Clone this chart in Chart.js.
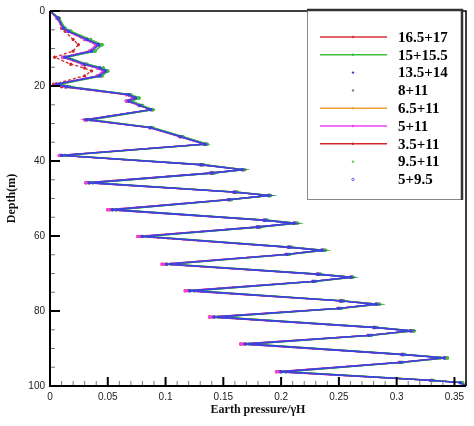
<!DOCTYPE html>
<html>
<head>
<meta charset="utf-8">
<script src="https://cdn.jsdelivr.net/npm/chart.js@4.4.0/dist/chart.umd.min.js"></script>
<style>
  html, body { margin: 0; padding: 0; background: #fff; }
  #wrap { width: 474px; height: 426px; }
</style>
</head>
<body>
<div id="wrap"><canvas id="chart" width="474" height="426"></canvas></div>
<script>
// depth (m), shared by every case
const depth = [
  0, 1.9, 4.6, 5.4, 7.6, 9.0, 10.7, 12.3, 14.2, 15.2, 16.0, 17.3, 19.5, 20.2,
  22.3, 23.2, 24.0, 25.2, 26.3, 29.0, 31.1, 33.5, 35.5, 38.5, 41.0, 42.3, 43.2,
  45.8, 48.3, 49.2, 50.3, 53.0, 55.8, 56.6, 57.6, 60.1, 63.0, 63.8, 64.9, 67.5,
  70.2, 71.0, 72.1, 74.6, 77.3, 78.2, 79.3, 81.6, 84.4, 85.3, 86.5, 88.8, 91.6,
  92.5, 93.7, 96.2, 98.5, 99.1, 100
];

// earth pressure / yH
const pressBlue = [
  0, 0.007, 0.0116, 0.016, 0.032, 0.042, 0.036, 0.013, 0.030, 0.043, 0.048, 0.043, 0.006, 0.0145,
  0.068, 0.074, 0.068, 0.078, 0.087, 0.032, 0.087, 0.113, 0.134, 0.010, 0.131, 0.166, 0.140,
  0.034, 0.160, 0.189, 0.155, 0.054, 0.186, 0.211, 0.180, 0.080, 0.207, 0.235, 0.205, 0.101,
  0.232, 0.260, 0.228, 0.121, 0.252, 0.282, 0.250, 0.142, 0.281, 0.312, 0.276, 0.169, 0.305,
  0.341, 0.303, 0.200, 0.330, 0.355, 0.360
];
const pressGreen = [
  0, 0.008, 0.013, 0.018, 0.035, 0.045, 0.039, 0.015, 0.032, 0.046, 0.050, 0.045, 0.009, 0.017,
  0.070, 0.077, 0.071, 0.080, 0.089, 0.035, 0.089, 0.115, 0.136, 0.013, 0.133, 0.168, 0.142,
  0.037, 0.162, 0.191, 0.157, 0.057, 0.188, 0.214, 0.182, 0.084, 0.209, 0.238, 0.207, 0.105,
  0.234, 0.262, 0.230, 0.125, 0.254, 0.285, 0.252, 0.146, 0.283, 0.315, 0.278, 0.173, 0.307,
  0.344, 0.305, 0.204, 0.332, 0.357, 0.360
];
const pressMagenta = [
  0, 0.006, 0.011, 0.015, 0.030, 0.040, 0.034, 0.011, 0.028, 0.041, 0.046, 0.041, 0.005, 0.013,
  0.066, 0.072, 0.066, 0.077, 0.088, 0.030, 0.086, 0.112, 0.133, 0.008, 0.130, 0.167, 0.139,
  0.031, 0.159, 0.190, 0.154, 0.050, 0.185, 0.212, 0.179, 0.076, 0.206, 0.236, 0.204, 0.097,
  0.231, 0.261, 0.227, 0.117, 0.251, 0.283, 0.249, 0.138, 0.280, 0.313, 0.275, 0.165, 0.304,
  0.342, 0.302, 0.196, 0.329, 0.356, 0.360
];
const pressRed = [
  0, 0.007, 0.010, 0.013, 0.020, 0.0245, 0.020, 0.004, 0.018, 0.030, 0.036, 0.030, 0.003, 0.010,
  0.066, 0.073, 0.069, 0.079, 0.089, 0.031, 0.088, 0.114, 0.135, 0.009, 0.132, 0.168, 0.141,
  0.033, 0.161, 0.190, 0.156, 0.052, 0.187, 0.213, 0.181, 0.078, 0.208, 0.237, 0.206, 0.099,
  0.233, 0.262, 0.229, 0.119, 0.253, 0.284, 0.251, 0.140, 0.282, 0.314, 0.277, 0.167, 0.306,
  0.343, 0.304, 0.198, 0.331, 0.356, 0.360
];

const caseNames = ['16.5+17', '15+15.5', '13.5+14', '8+11', '6.5+11', '5+11', '3.5+11', '9.5+11', '5+9.5'];
const caseValues = [pressMagenta, pressGreen, pressBlue, pressGreen, pressMagenta, pressMagenta, pressRed, pressGreen, pressBlue];
const caseColors = ['#d8343c', '#3cc03c', '#3c3cd8', '#7a7a7a', '#f0a030', '#f040f0', '#d02828', '#50c850', '#4040e0'];
const legendLine = [true, true, false, false, true, true, true, false, false];
const drawOrder = [6, 2, 1, 7, 8, 4, 5, 3, 0];

const xTickLabels = ['0', '0.05', '0.1', '0.15', '0.2', '0.25', '0.3', '0.35'];
const yTickLabels = ['0', '20', '40', '60', '80', '100'];

const pickLabel = (labels, v) => labels.find(l => Math.abs(parseFloat(l) - v) < 1e-6) || '';

const datasets = caseNames.map((name, i) => ({
  label: name,
  data: depth.map((d, k) => ({ x: caseValues[i][k], y: d })),
  borderColor: caseColors[i],
  backgroundColor: caseColors[i],
  borderWidth: 1.3,
  borderDash: caseColors[i] === '#d02828' || caseColors[i] === '#d8343c' ? [3, 2] : [],
  pointRadius: 1,
  pointHoverRadius: 1,
  showLine: true,
  tension: 0,
  order: drawOrder[i]
}));

const frame = {
  id: 'frame',
  afterDraw(chart) {
    const { ctx, chartArea: a, scales: { x, y } } = chart;
    ctx.save();
    // minor and major ticks, inward
    for (let i = 0; i <= 36; i++) {
      const px = x.getPixelForValue(i / 100);
      const major = i % 5 === 0;
      ctx.strokeStyle = major ? '#000' : '#777';
      ctx.lineWidth = major ? 2 : 1;
      ctx.beginPath();
      ctx.moveTo(px, a.bottom);
      ctx.lineTo(px, a.bottom - (major ? 9 : 5));
      ctx.stroke();
    }
    for (let v = 0; v <= 100; v += 5) {
      const py = y.getPixelForValue(v);
      const major = v % 20 === 0;
      ctx.strokeStyle = major ? '#000' : '#777';
      ctx.lineWidth = major ? 2 : 1;
      ctx.beginPath();
      ctx.moveTo(a.left, py);
      ctx.lineTo(a.left + (major ? 10 : 5), py);
      ctx.stroke();
    }
    ctx.strokeStyle = '#000';
    ctx.lineWidth = 1.5;
    ctx.beginPath();
    ctx.moveTo(a.left, a.top);
    ctx.lineTo(a.right, a.top);
    ctx.lineTo(a.right, a.bottom);
    ctx.stroke();
    ctx.lineWidth = 2;
    ctx.beginPath();
    ctx.moveTo(a.left, a.top);
    ctx.lineTo(a.left, a.bottom);
    ctx.lineTo(a.right, a.bottom);
    ctx.stroke();

    // boxed legend
    const bx = 307, by = 10, bw = 154, bh = 189;
    ctx.fillStyle = '#fff';
    ctx.fillRect(bx, by, bw, bh);
    ctx.strokeStyle = '#888';
    ctx.lineWidth = 1;
    ctx.strokeRect(bx + 0.5, by + 0.5, bw, bh);
    ctx.strokeStyle = '#333';
    ctx.lineWidth = 2.5;
    ctx.beginPath();
    ctx.moveTo(bx, by);
    ctx.lineTo(bx + bw + 1, by);
    ctx.lineTo(bx + bw + 1, by + bh + 1);
    ctx.stroke();

    ctx.font = 'bold 15px "Liberation Serif", "Times New Roman", serif';
    ctx.textBaseline = 'middle';
    ctx.textAlign = 'left';
    caseNames.forEach((name, i) => {
      const ry = 37 + i * 17.8;
      const c = caseColors[i];
      if (legendLine[i]) {
        ctx.strokeStyle = c;
        ctx.lineWidth = 1.4;
        ctx.beginPath();
        ctx.moveTo(320, ry);
        ctx.lineTo(387, ry);
        ctx.stroke();
      }
      ctx.fillStyle = c;
      ctx.strokeStyle = c;
      ctx.lineWidth = 0.8;
      ctx.beginPath();
      ctx.arc(353, ry, 1.2, 0, Math.PI * 2);
      if (i === 8) ctx.stroke(); else ctx.fill();
      ctx.fillStyle = '#000';
      ctx.fillText(name, 398, ry + 1);
    });
    ctx.restore();
  }
};

new Chart(document.getElementById('chart'), {
  type: 'scatter',
  data: { datasets },
  options: {
    responsive: false,
    animation: false,
    layout: { padding: { top: 6, right: 8, left: 0, bottom: 0 } },
    plugins: { legend: { display: false }, tooltip: { enabled: false } },
    scales: {
      x: {
        type: 'linear',
        min: 0,
        max: 0.36,
        grid: { display: false, drawTicks: false },
        border: { display: false },
        ticks: {
          stepSize: 0.05,
          includeBounds: false,
          padding: 5,
          color: '#222',
          font: { family: '"Liberation Sans", Arial, sans-serif', size: 10 },
          callback: v => pickLabel(xTickLabels, v)
        },
        title: {
          display: true,
          text: 'Earth pressure/γH',
          color: '#111',
          padding: { top: 2, bottom: 9 },
          font: { family: '"Liberation Serif", "Times New Roman", serif', size: 12, weight: 'bold' }
        },
        afterFit: s => { s.height = 40; }
      },
      y: {
        type: 'linear',
        reverse: true,
        min: 0,
        max: 100,
        grid: { display: false, drawTicks: false },
        border: { display: false },
        ticks: {
          stepSize: 20,
          padding: 5,
          color: '#222',
          font: { family: '"Liberation Sans", Arial, sans-serif', size: 10 },
          callback: v => pickLabel(yTickLabels, v)
        },
        title: {
          display: true,
          text: 'Depth(m)',
          color: '#111',
          padding: { top: 5, bottom: 0 },
          font: { family: '"Liberation Serif", "Times New Roman", serif', size: 12, weight: 'bold' }
        },
        afterFit: s => { s.width = 50; }
      }
    }
  },
  plugins: [frame]
});
</script>
</body>
</html>
